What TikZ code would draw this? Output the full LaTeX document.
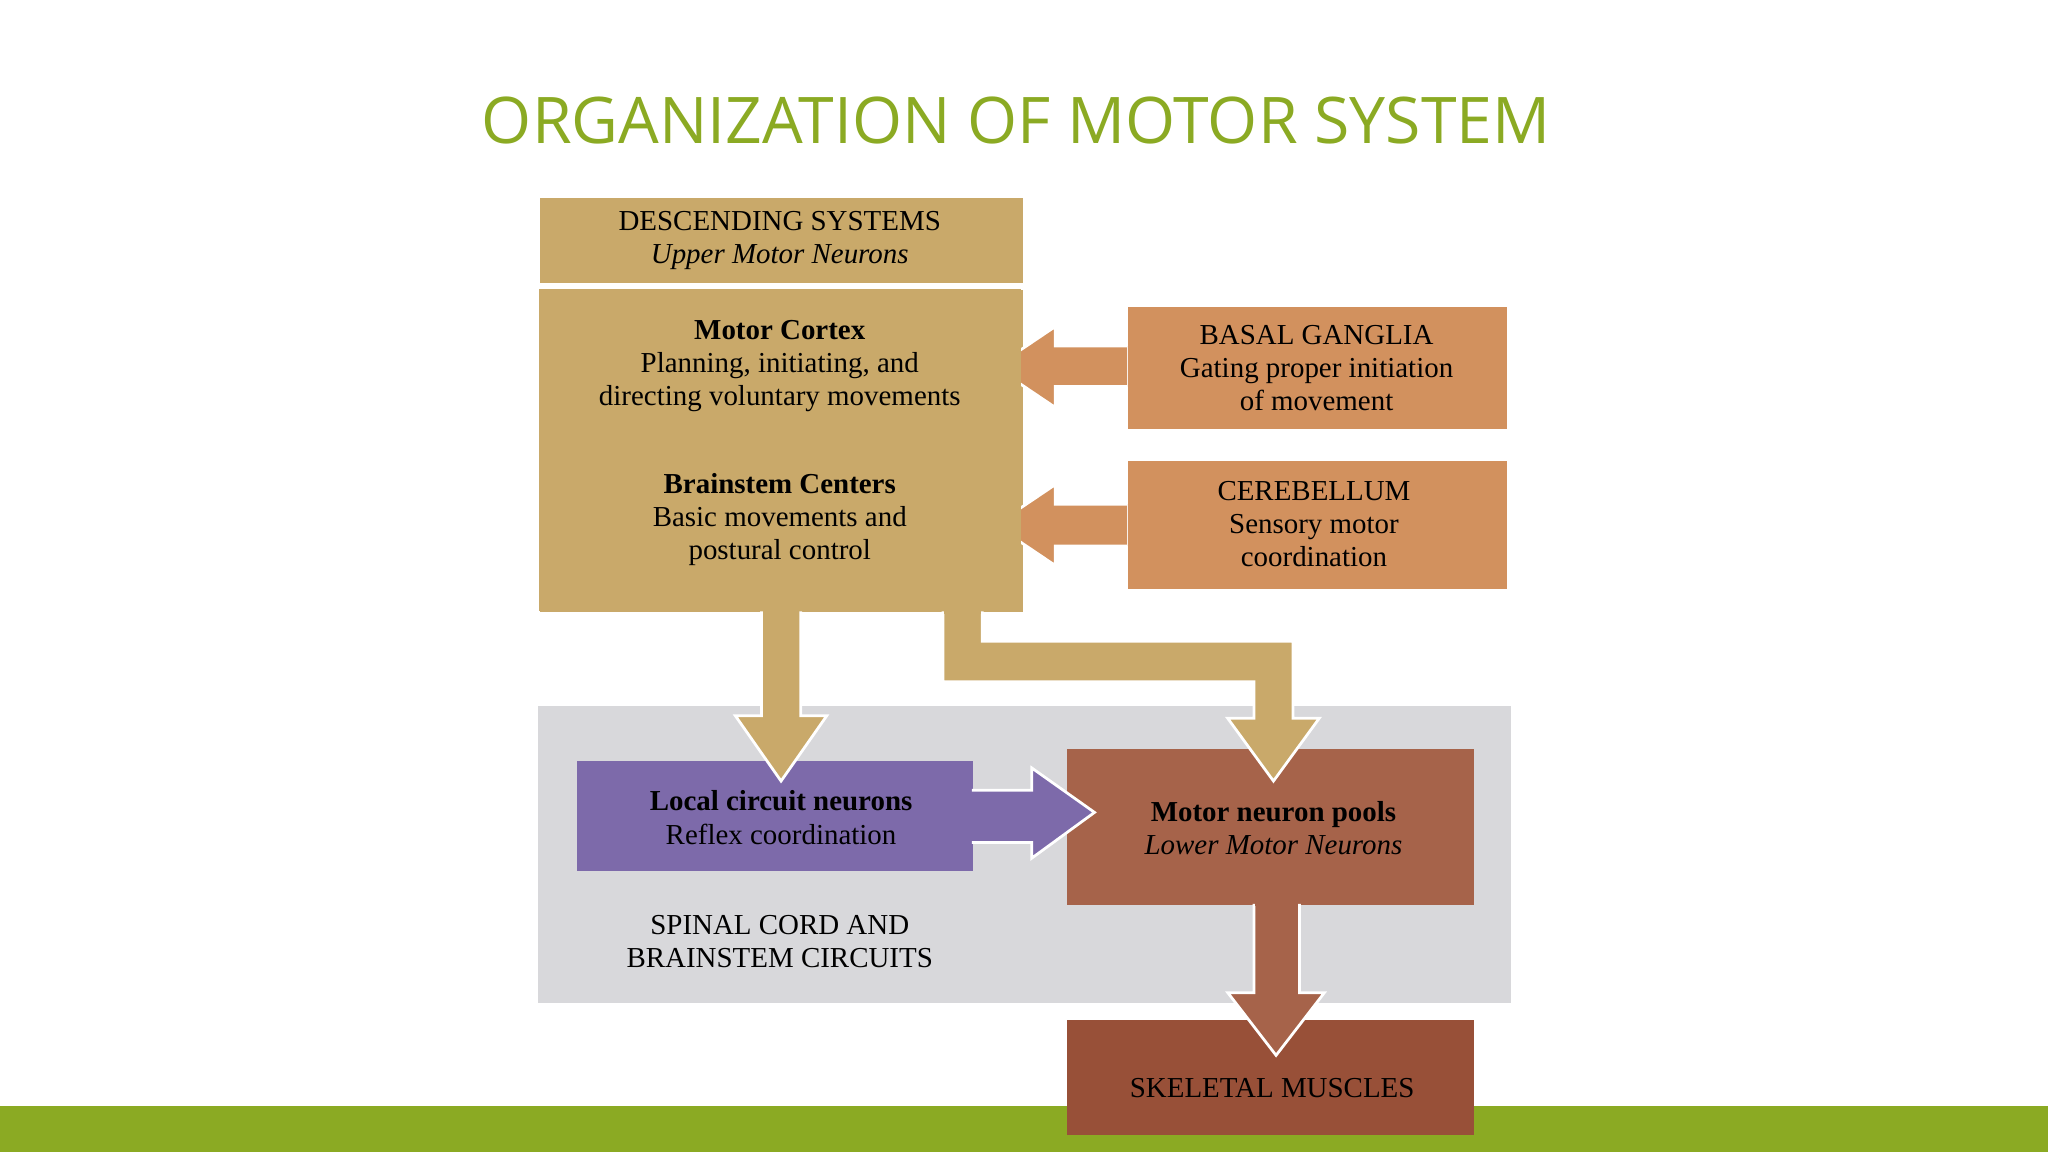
\documentclass[tikz,border=0pt]{standalone}
\usepackage{fontspec}
\setmainfont{Liberation Serif}
\newfontfamily\titlefont{Open Sans}
\definecolor{tan}{HTML}{C9A96A}
\definecolor{orng}{HTML}{D2915E}
\definecolor{purp}{HTML}{7D6AAA}
\definecolor{mbrown}{HTML}{A6634A}
\definecolor{dbrown}{HTML}{985038}
\definecolor{gry}{HTML}{D8D8DB}
\definecolor{grn}{HTML}{8BAA23}
\begin{document}
\begin{tikzpicture}[x=0.01cm,y=-0.01cm,
 box/.style={anchor=north west,inner sep=0pt,align=center,font=\fontsize{6.3}{7}\selectfont},
 arr/.style={draw=white,line width=0.6pt,line join=miter}]
\useasboundingbox (0,0) rectangle (1568,882);
\fill[grn] (0,847) rectangle (1568,882);
\node[font=\titlefont\fontsize{14}{16}\selectfont,text=grn] (title) at (778,92) {ORGANIZATION OF MOTOR SYSTEM};
% gray region
\node[box,fill=gry,minimum width=745\pgflinewidth*0+7.45cm,minimum height=2.27cm] (spinal) at (411,540) {};
\node[box] (spinaltxt) at (597,721) {};
\node[align=center,font=\fontsize{6.3}{7.2}\selectfont] (sc) at (597,721) {SPINAL CORD AND\\BRAINSTEM CIRCUITS};
% boxes
\node[box,fill=tan,minimum width=3.69cm,minimum height=0.65cm] (desc) at (413,151) {};
\node[align=center,font=\fontsize{6.3}{7.2}\selectfont] (desct) at (597,184) {DESCENDING SYSTEMS\\\textit{Upper Motor Neurons}};
\node[box,fill=tan,minimum width=3.69cm,minimum height=2.47cm] (big) at (413,221) {};
\node[align=center,font=\fontsize{6.3}{7.2}\selectfont] (mc) at (597,280) {\textbf{Motor Cortex}\\Planning, initiating, and\\directing voluntary movements};
\node[align=center,font=\fontsize{6.3}{7.2}\selectfont] (bs) at (597,398) {\textbf{Brainstem Centers}\\Basic movements and\\postural control};
\node[box,fill=orng,minimum width=2.9cm,minimum height=0.94cm] (bg) at (863,234) {};
\node[align=center,font=\fontsize{6.3}{7.2}\selectfont] (bgt) at (1008,282) {BASAL GANGLIA\\Gating proper initiation\\of movement};
\node[box,fill=orng,minimum width=2.9cm,minimum height=0.98cm] (cb) at (863,352) {};
\node[align=center,font=\fontsize{6.3}{7.2}\selectfont] (cbt) at (1006,401) {CEREBELLUM\\Sensory motor\\coordination};
\node[box,fill=purp,minimum width=3.03cm,minimum height=0.84cm] (loc) at (441,582) {};
\node[align=center,font=\fontsize{6.3}{7.2}\selectfont] (loct) at (598,626) {\textbf{Local circuit neurons}\\Reflex coordination};
\node[box,fill=mbrown,minimum width=3.12cm,minimum height=1.19cm] (mn) at (816,573) {};
\node[align=center,font=\fontsize{6.3}{7.2}\selectfont] (mnt) at (975,634) {\textbf{Motor neuron pools}\\\textit{Lower Motor Neurons}};
\node[box,fill=dbrown,minimum width=3.12cm,minimum height=0.88cm] (sk) at (816,780) {};
\node[font=\fontsize{6.3}{7.2}\selectfont] (skt) at (974,833) {SKELETAL MUSCLES};
% arrows
\filldraw[arr,fill=orng] (863,265) -- (808,265) -- (808,250) -- (762,281) -- (808,312) -- (808,296) -- (863,296);
\filldraw[arr,fill=orng] (863,386) -- (808,386) -- (808,371) -- (762,402) -- (808,433) -- (808,418) -- (863,418);
\fill[tan] (413,221) rectangle (782,468);
\node[align=center,font=\fontsize{6.3}{7.2}\selectfont] at (597,280) {\textbf{Motor Cortex}\\Planning, initiating, and\\directing voluntary movements};
\node[align=center,font=\fontsize{6.3}{7.2}\selectfont] at (597,398) {\textbf{Brainstem Centers}\\Basic movements and\\postural control};
\filldraw[arr,fill=tan] (583,468) -- (583,548) -- (563,548) -- (598,598) -- (633,548) -- (613,548) -- (613,468);
\filldraw[arr,fill=tan] (722,468) -- (722,522) -- (960,522) -- (960,550) -- (940,550) -- (975,598) -- (1010,550) -- (990,550) -- (990,491) -- (752,491) -- (752,468);
\fill[tan] (584,466) rectangle (612,470);
\fill[tan] (723,466) rectangle (751,470);
\filldraw[arr,fill=purp] (744,605) -- (790,605) -- (790,588) -- (838,622) -- (790,657) -- (790,645) -- (744,645);
\fill[purp] (742,606) rectangle (746,644);
\filldraw[arr,fill=mbrown] (960,692) -- (960,760) -- (940,760) -- (977,808) -- (1014,760) -- (995,760) -- (995,692);
\fill[mbrown] (961,690) rectangle (994,694);
\end{tikzpicture}
\end{document}
